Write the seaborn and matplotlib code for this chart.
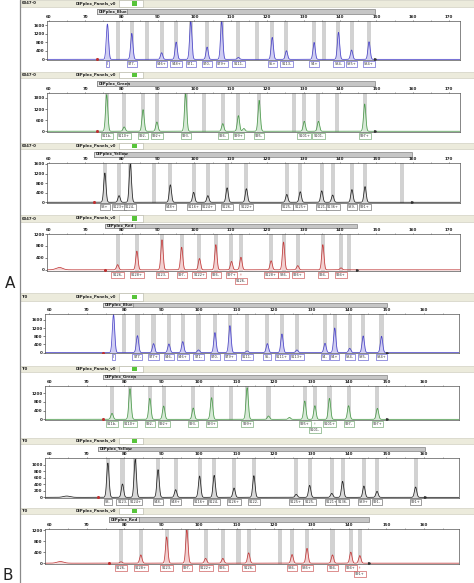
import numpy as np
import pandas as pd
import matplotlib
matplotlib.use("Agg")
import matplotlib.pyplot as plt
from matplotlib.patches import Rectangle
import seaborn as sns

sns.set_theme(style="white")
plt.rcParams['font.family'] = ['DejaVu Sans']

# ---------------- data (size in bp, height in RFU) ----------------
# A - Blue
a_blue_size = [76.1, 82.8, 91.0, 95.0, 99.0, 103.5, 107.5, 112.1, 121.4, 125.3, 132.9, 139.6, 143.2, 148.0]
a_blue_rfu = [1646, 1211, 310, 807, 1780, 575, 1780, 93, 1025, 404, 792, 1258, 435, 823]
a_blue_lab = ["I", "S77-", "S46+", "S48+", "S71-", "S70-", "S79+", "S111-", "S5+", "S113-", "S4+", "S84-", "S85+", "S84+"]
a_blue_bins = [79.0, 82.8, 87.0, 91.0, 95.0, 99.0, 103.5, 107.5, 112.1, 117.3, 121.4, 125.3, 132.9, 135.5, 139.6, 143.2, 148.0]

# A - Green
a_green_size = [75.9, 80.7, 85.9, 89.7, 97.6, 107.8, 112.1, 113.6, 117.8, 130.2, 134.1, 146.8]
a_green_rfu = [1980, 234, 1170, 504, 2030, 414, 846, 150, 1673, 540, 540, 1475]
a_green_lab = ["S11b-", "S110+", "S92-", "S92+", "S93-", "S96-", "S99+", "", "S95-", "S101+", "S101-", "S97+"]
a_green_bins = [75.9, 80.7, 85.9, 89.7, 97.6, 102.6, 107.8, 112.1, 117.8, 127.5, 130.2, 134.1, 139.3, 146.8]

# A - Yellow
a_yel_size = [75.4, 79.3, 82.4, 93.4, 99.8, 103.7, 109.0, 114.3, 125.4, 129.1, 135.0, 138.0, 143.3, 146.9]
a_yel_rfu = [1222, 277, 1600, 730, 415, 277, 605, 567, 327, 441, 479, 302, 529, 655]
a_yel_lab = ["S3+", "S123+", "S124-", "S48+", "S116+", "S124+", "S126-", "S122+", "S125-", "S125+", "S121-", "S136+", "S89-", "S91+"]
a_yel_bins = [75.4, 79.3, 82.4, 88.8, 93.4, 99.8, 103.7, 109.0, 114.3, 125.4, 129.1, 135.0, 138.0, 143.3, 146.9, 157.1]

# A - Red
a_red_size = [62.9, 78.9, 84.2, 91.1, 96.5, 101.4, 105.9, 110.2, 112.8, 121.1, 124.5, 128.4, 135.3, 140.3]
a_red_rfu = [80, 173, 627, 1005, 757, 378, 843, 281, 422, 303, 930, 140, 843, 65]
a_red_lab = ["", "S126-", "S128+", "S123-", "S97-", "S122+", "S96-", "S97+", "S126-", "S128+", "S36-", "S96+", "S94-", "S94+"]
a_red_bins = [78.9, 84.2, 91.1, 96.5, 101.4, 105.9, 110.2, 112.8, 121.1, 124.5, 128.4, 135.3, 140.3, 142.6]

# B - Blue
b_blue_size = [77.1, 83.5, 87.8, 91.9, 95.6, 99.8, 104.2, 108.2, 112.8, 118.2, 122.1, 126.1, 133.6, 136.2, 140.2, 143.8, 148.7]
b_blue_rfu = [1860, 832, 440, 424, 538, 130, 979, 1321, 82, 440, 913, 130, 457, 1207, 212, 816, 800]
b_blue_lab = ["I", "S77-", "S77+", "S46-", "S46+", "S71-", "S70-", "S79+", "S111-", "S5-", "S111+", "S113+", "S4-", "S4+", "S84-", "S85-", "S84+"]
b_blue_bins = [79.9, 83.5, 87.8, 91.9, 95.6, 99.8, 104.2, 108.2, 112.8, 118.2, 122.1, 126.1, 133.6, 136.2, 140.2, 143.8, 148.7]

# B - Green
b_green_size = [76.7, 81.5, 86.8, 90.5, 98.4, 103.3, 112.8, 118.5, 124.1, 128.2, 130.9, 134.8, 139.9, 147.6]
b_green_rfu = [274, 1398, 957, 608, 517, 988, 1444, 152, 90, 836, 623, 957, 623, 501]
b_green_lab = ["S11b-", "S110+", "S92-", "S92+", "S93-", "S93+", "S99+", "", "", "S95+", "S101-", "S101+", "S97-", "S97+"]
b_green_bins = [76.7, 81.5, 86.8, 90.5, 98.4, 103.3, 108.5, 112.8, 118.5, 128.2, 130.9, 134.8, 139.9, 147.6]

# B - Yellow
b_yel_size = [64.6, 75.6, 79.5, 82.9, 89.0, 93.7, 100.1, 104.0, 109.3, 114.6, 125.9, 129.5, 135.4, 138.3, 144.0, 147.5, 157.8]
b_yel_rfu = [40, 1056, 410, 1169, 851, 236, 656, 677, 287, 667, 92, 369, 123, 492, 349, 185, 318]
b_yel_lab = ["", "S3-", "S123-", "S124+", "S48-", "S48+", "S116+", "S124-", "S126+", "S122-", "S125+", "S125-", "S121+", "S136-", "S89+", "S91-", "S91+"]
b_yel_bins = [75.6, 79.5, 82.9, 89.0, 93.7, 100.1, 104.0, 109.3, 114.6, 125.9, 129.5, 135.4, 138.3, 144.0, 147.5, 157.8]

# B - Red
b_red_size = [62.9, 79.1, 84.4, 91.3, 96.7, 101.7, 106.3, 113.2, 124.8, 128.8, 135.6, 140.5, 142.9]
b_red_rfu = [60, 50, 303, 960, 1212, 177, 177, 379, 316, 543, 303, 404, 278]
b_red_lab = ["", "S126-", "S128+", "S123-", "S97-", "S122+", "S96-", "S126-", "S36-", "S36+", "S94-", "S94+", "S91+"]
b_red_bins = [79.1, 84.4, 91.3, 96.7, 101.7, 106.3, 110.5, 113.2, 121.6, 124.8, 128.8, 135.6, 140.5, 142.9]

x_ticks = [60, 70, 80, 90, 100, 110, 120, 130, 140, 150, 160, 170]

# ---------------- styling ----------------
COL = {
    "Blue": ("#4a44c8", "#cfcdf3", "#4a44c8"),
    "Green": ("#4c9a4c", "#d6ead6", "#5a9a5a"),
    "Yellow": ("#222222", "#d9d9d9", "#555555"),
    "Red": ("#c23a3a", "#f3d0d0", "#c23a3a"),
}

W, H = 474, 583
fig = plt.figure(figsize=(W / 100, H / 100), dpi=100)
fig.patch.set_facecolor("white")
bg = fig.add_axes([0, 0, 1, 1])
bg.set_xlim(0, W)
bg.set_ylim(H, 0)
bg.axis("off")

bg.plot([20, 20], [0, H], color="#8a8a8a", lw=0.9)
bg.text(10, 283, "A", fontsize=11, ha="center", va="center", color="#222222")
bg.text(8, 575, "B", fontsize=11, ha="center", va="center", color="#222222")


def pax(x0, y0, x1, y1):
    return fig.add_axes([x0 / W, 1 - y1 / H, (x1 - x0) / W, (y1 - y0) / H])


panels = [
    # sample, channel, size, rfu, lab, bins, header(y0,y1), chanbar(x0,x1,y0,y1), box(x0,y0,x1,y1), xlim, ylim, yticks, lower
    ("0047-0", "Blue", a_blue_size, a_blue_rfu, a_blue_lab, a_blue_bins, (0, 7), (97, 375, 9, 14), (47, 21, 460, 60), (59.5, 173), (-30, 1790), [0, 400, 800, 1200, 1600], []),
    ("0047-0", "Green", a_green_size, a_green_rfu, a_green_lab, a_green_bins, (72, 78), (97, 375, 81, 86), (47, 93, 460, 132), (59.5, 173), (-40, 2070), [0, 600, 1200, 1800], []),
    ("0047-0", "Yellow", a_yel_size, a_yel_rfu, a_yel_lab, a_yel_bins, (143, 149), (94, 412, 152, 157), (47, 163, 460, 203), (59.5, 173), (-30, 1640), [0, 400, 800, 1200, 1600], []),
    ("0047-0", "Red", a_red_size, a_red_rfu, a_red_lab, a_red_bins, (215, 222), (105, 357, 224, 228), (47, 234, 460, 271), (59.5, 173), (-40, 1200), [0, 400, 800, 1200], [8]),
    ("T-0", "Blue", b_blue_size, b_blue_rfu, b_blue_lab, b_blue_bins, (293, 301), (103, 387, 303, 307), (45, 314, 459, 353), (58.8, 169.4), (-20, 1890), [0, 400, 800, 1200, 1600], []),
    ("T-0", "Green", b_green_size, b_green_rfu, b_green_lab, b_green_bins, (366, 372), (103, 387, 375, 379), (45, 386, 459, 420), (58.8, 169.4), (-30, 1520), [0, 400, 800, 1200], [10]),
    ("T-0", "Yellow", b_yel_size, b_yel_rfu, b_yel_lab, b_yel_bins, (438, 444), (98, 425, 447, 451), (45, 458, 459, 498), (58.8, 169.4), (-20, 1210), [0, 200, 400, 600, 800, 1000], []),
    ("T-0", "Red", b_red_size, b_red_rfu, b_red_lab, b_red_bins, (508, 514), (109, 369, 517, 522), (45, 529, 459, 564), (58.8, 169.4), (-30, 1250), [0, 400, 800, 1200], [12]),
]

for (sample, chan, size, rfu, lab, bins, hdr, cb, box, xlim, ylim, yticks, lower) in panels:
    line_c, fill_c, edge_c = COL[chan]
    # header strip
    bg.add_patch(Rectangle((20.5, hdr[0]), W - 20.5, hdr[1] - hdr[0], fc="#ecebdc", ec="#c9c8b8", lw=0.4))
    ym = (hdr[0] + hdr[1]) / 2
    bg.text(21.5, ym, sample, fontsize=2.8, fontweight="bold", va="center", ha="left", color="#222222")
    bg.text(76, ym, "DIPplex_Panels_v0", fontsize=2.8, fontweight="bold", va="center", ha="left", color="#222222")
    bg.add_patch(Rectangle((119, hdr[0]), 24, hdr[1] - hdr[0], fc="white", ec="#b0b0a0", lw=0.4))
    bg.add_patch(Rectangle((132, ym - 2.2), 4.6, 4.4, fc="#58c43a", ec="none"))
    # channel bar
    bg.add_patch(Rectangle((cb[0], cb[2]), cb[1] - cb[0], cb[3] - cb[2], fc="#c6c6c6", ec="#6a6a6a", lw=0.4))
    bg.add_patch(Rectangle((cb[0], cb[2]), 30, cb[3] - cb[2], fc="#e6e6e6", ec="#6a6a6a", lw=0.4))
    bg.text(cb[0] + 1.5, (cb[2] + cb[3]) / 2, "DIPplex_" + chan, fontsize=2.8, fontweight="bold", va="center", ha="left", color="#222222")

    ax = pax(*box)
    ax.set_facecolor("white")
    # bins
    for b in bins:
        ax.axvspan(b - 0.55, b + 0.55, color="#d2d2d2", lw=0, zorder=0)
    # trace built from the peak list
    xs = np.linspace(xlim[0], xlim[1], 4000)
    ys = np.zeros_like(xs)
    for p, h in zip(size, rfu):
        s = 0.9 if p < 70 else 0.31
        ys += h * np.exp(-0.5 * ((xs - p) / s) ** 2)
    df = pd.DataFrame({"size": xs, "rfu": ys})
    ax.fill_between(df["size"], 0, df["rfu"], color=fill_c, lw=0, zorder=1)
    sns.lineplot(data=df, x="size", y="rfu", ax=ax, color=line_c, lw=0.55, estimator=None, zorder=2)
    # analysis range markers
    ax.plot([xlim[0] + (cb[0] - box[0]) / (box[2] - box[0]) * (xlim[1] - xlim[0])], [0], "o", ms=1.2, color="#c03030", zorder=3)
    ax.plot([xlim[0] + (cb[1] - box[0]) / (box[2] - box[0]) * (xlim[1] - xlim[0])], [0], ">", ms=1.3, color="#303030", zorder=3)

    ax.set_xlim(*xlim)
    ax.set_ylim(*ylim)
    ax.set_xlabel("")
    ax.set_ylabel("")
    ax.xaxis.tick_top()
    ax.set_xticks([t for t in x_ticks if xlim[0] <= t <= xlim[1]])
    ax.set_xticks(np.arange(65, xlim[1], 10), minor=True)
    ax.set_yticks(yticks)
    ax.tick_params(axis="x", which="major", labelsize=2.9, length=1.0, width=0.4, pad=0.3, colors="#222222", top=True, bottom=False)
    ax.tick_params(axis="x", which="minor", length=0.7, width=0.3, top=True, bottom=False)
    ax.tick_params(axis="y", labelsize=2.9, length=1.2, width=0.4, pad=0.6, colors="#222222", left=True)
    for t in ax.get_xticklabels() + ax.get_yticklabels():
        t.set_fontweight("bold")
    for sp in ax.spines.values():
        sp.set_color("#555555")
        sp.set_linewidth(0.5)
    ax.grid(False)

    # peak labels
    for i, (p, l) in enumerate(zip(size, lab)):
        if not l:
            continue
        off = -6.0 if i in lower else -1.2
        ax.annotate(
            l, xy=(p, 0), xycoords=("data", "axes fraction"), xytext=(0, off), textcoords="offset points",
            ha="center", va="top", fontsize=2.5, color="#333333", annotation_clip=False,
            bbox=dict(boxstyle="square,pad=0.3", fc="white", ec=edge_c, lw=0.4),
            arrowprops=(dict(arrowstyle="-", color=edge_c, lw=0.4) if i in lower else None),
        )

fig.savefig("out.png", dpi=100, facecolor="white")
